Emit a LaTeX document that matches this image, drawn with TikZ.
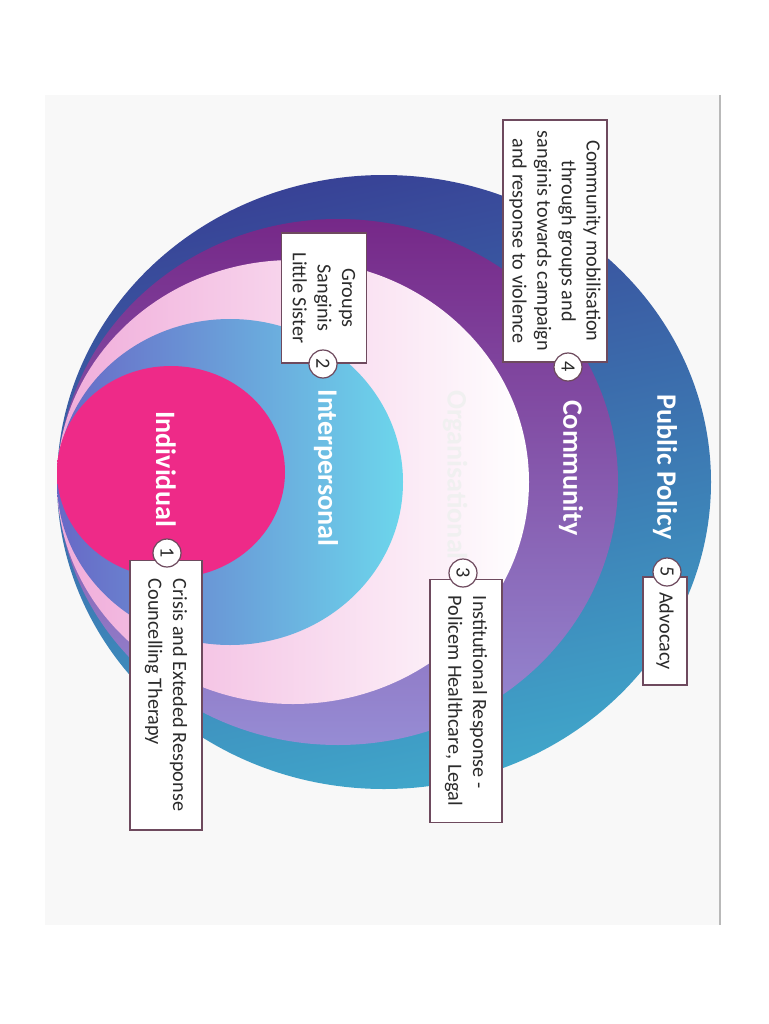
\documentclass[tikz,border=0pt]{standalone}
\usepackage{fontspec}
\setmainfont{Carlito}
\usepackage{tikz}
\usepackage{xcolor}

\definecolor{pagegray}{HTML}{F8F8F8}
\definecolor{boxline}{HTML}{6E4A5E}
\definecolor{inktext}{HTML}{2B2B2B}
\definecolor{indivpink}{HTML}{EE2A88}
\definecolor{indivedge}{HTML}{6A6ECB}

\pgfdeclareradialshading{indivshade}{\pgfpoint{0bp}{0bp}}{%
	color(0bp)=(indivpink); color(34bp)=(indivpink); color(49bp)=(indivedge); color(100bp)=(indivedge)}

\begin{document}
\begin{tikzpicture}[x=0.02cm, y=-0.02cm,
	ringlabel/.style={text=white, font=\fontsize{16}{19}\selectfont\bfseries, rotate=-90},
	infobox/.style={draw=boxline, fill=white, text=inktext, rotate=-90, line width=0.6pt, align=left, inner sep=0pt, font=\fontsize{11.5}{14}\selectfont},
	numdot/.style={circle, draw=boxline, fill=white, text=inktext, rotate=-90, line width=0.7pt, minimum size=0.56cm, inner sep=0pt, font=\fontsize{11.5}{14}\selectfont}]
	\useasboundingbox (0,0) rectangle (768,1024);

	% page
	\fill[pagegray] (45,95) rectangle (720,925);
	\draw[gray!55, line width=0.8pt] (720,95) -- (720,925);

	% rings
	\shade[top color={rgb,255:red,56;green,66;blue,150}, middle color={rgb,255:red,72;green,100;blue,180}, bottom color={rgb,255:red,64;green,166;blue,202}, shading angle=12]
		(384,482) ellipse [x radius=327, y radius=307];
	\shade[top color={rgb,255:red,118;green,40;blue,136}, middle color={rgb,255:red,140;green,60;blue,160}, bottom color={rgb,255:red,150;green,140;blue,212}]
		(338,482) ellipse [x radius=280, y radius=263];
	\shade[left color={rgb,255:red,240;green,172;blue,218}, middle color=white, right color=white]
		(293,482) ellipse [x radius=236, y radius=222];
	\shade[left color={rgb,255:red,104;green,104;blue,198}, middle color={rgb,255:red,92;green,126;blue,212}, right color={rgb,255:red,108;green,214;blue,236}]
		(230,482) ellipse [x radius=173, y radius=163];
	\shade[shading=indivshade] (171,472) ellipse [x radius=114, y radius=106];

	% ring names
	\node[ringlabel] (policy) at (665,467) {Public Policy};
	\node[ringlabel] (community) at (571,468) {Community};
	\node[ringlabel, text=black!6] (organisation) at (455,475) {Organisational};
	\node[ringlabel] (interpersonal) at (326,468) {Interpersonal};
	\node[ringlabel] (individual) at (166,469) {Individual};

	% boxes
	\node[infobox, minimum width=5.4cm, minimum height=1.44cm] (crisis) at (166,695) {Crisis and Exteded Response\\Councelling Therapy};
	\node[infobox, align=center, minimum width=2.6cm, minimum height=1.7cm] (groups) at (324,298) {Groups\\Sanginis\\Little Sister};
	\node[infobox, minimum width=4.86cm, minimum height=1.44cm] (institution) at (466,701) {Institutional Response -\\Policem Healthcare, Legal};
	\node[infobox, align=center, minimum width=4.84cm, minimum height=2.08cm] (mobilise) at (555,241) {Community mobilisation\\through groups and\\sanginis towards campaign\\and response to violence};
	\node[infobox, minimum width=2.16cm, minimum height=0.88cm] (advocacy) at (665,631) {Advocacy};

	% numbers
	\node[numdot] (n1) at (167,553) {1};
	\node[numdot] (n2) at (323,364) {2};
	\node[numdot] (n3) at (463,573) {3};
	\node[numdot] (n4) at (568,367) {4};
	\node[numdot] (n5) at (667,572) {5};
\end{tikzpicture}
\end{document}
